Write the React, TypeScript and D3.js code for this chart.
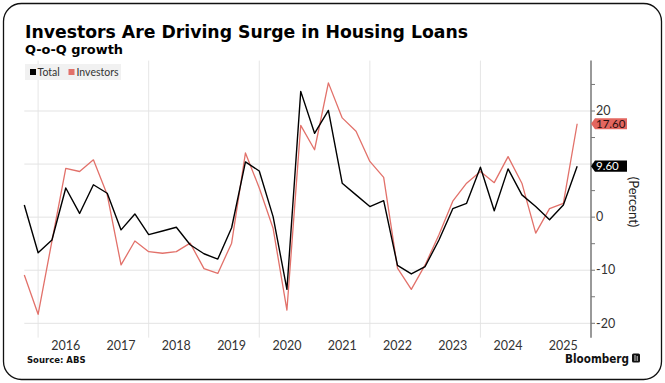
import React from "react";
import * as d3 from "d3";

const quarters = [
  "2015Q3","2015Q4","2016Q1","2016Q2","2016Q3","2016Q4","2017Q1","2017Q2","2017Q3","2017Q4",
  "2018Q1","2018Q2","2018Q3","2018Q4","2019Q1","2019Q2","2019Q3","2019Q4","2020Q1","2020Q2",
  "2020Q3","2020Q4","2021Q1","2021Q2","2021Q3","2021Q4","2022Q1","2022Q2","2022Q3","2022Q4",
  "2023Q1","2023Q2","2023Q3","2023Q4","2024Q1","2024Q2","2024Q3","2024Q4","2025Q1","2025Q2","2025Q3",
];
const total = [
  2.3, -6.7, -4.3, 5.5, 0.7, 6.1, 4.5, -2.4, 0.6, -3.3,
  -2.6, -1.9, -5.2, -6.9, -7.9, -2.0, 10.4, 8.7, 0.1, -13.6,
  23.7, 15.8, 20.1, 6.4, 4.2, 2.0, 3.1, -9.1, -10.7, -9.3,
  -4.3, 1.6, 2.6, 9.4, 1.2, 9.1, 4.2, 2.0, -0.5, 2.3, 9.6,
];
const investors = [
  -10.9, -18.3, -4.5, 9.2, 8.6, 10.8, 4.2, -9.0, -4.5, -6.5,
  -6.8, -6.5, -4.9, -9.7, -10.6, -4.9, 12.1, 5.5, -2.1, -17.5,
  17.3, 12.7, 25.3, 18.7, 16.2, 10.5, 7.5, -9.6, -13.6, -9.0,
  -3.3, 3.0, 6.4, 8.6, 6.5, 11.4, 6.4, -3.0, 1.6, 2.6, 17.6,
];
const yearLabels = ["2016","2017","2018","2019","2020","2021","2022","2023","2024","2025"];
const gridYears = [2016, 2018, 2020, 2022, 2024];
const yGrid = [-20, -10, 0, 10, 20];
const yTickLabels = [-20, -10, 0, 20]; // "10" is hidden behind the 9.60 tag
const yMinorTicks = [-20, -15, -10, -5, 0, 5, 10, 15, 20, 25];

const RED = "#e2716a";
const W = 665, H = 383;
const X0 = 24.3, X1 = 591;
const TICK_FONT = "Lato, 'Open Sans', sans-serif";
const BOLD_FONT = "'DejaVu Sans', Verdana, sans-serif";

function qToYear(q: string) {
  const y = +q.slice(0, 4);
  const n = +q.slice(5);
  return y + n * 0.25;
}

export default function App() {
  const x = d3.scaleLinear().domain([2015.75, 2026]).range([X0, X1]);
  const y = d3.scaleLinear().domain([-20, 20]).range([323.3, 111]);
  const yTop = y(29.5), yBot = y(-22.7);
  const t = quarters.map(qToYear);
  const line = d3
    .line<number>()
    .x((_, i) => x(t[i]))
    .y((d) => y(d));

  const tag = (v: number, fill: string, textFill: string) => {
    const yc = y(v);
    const h = 5.6;
    const p = `M${X1},${yc} L${X1 + 4},${yc - h} L${X1 + 36},${yc - h} L${X1 + 36},${yc + h} L${X1 + 4},${yc + h} Z`;
    return (
      <g>
        <path d={p} fill={fill} />
        <text x={X1 + 5} y={yc + 4} fontSize={11.5} fontFamily={TICK_FONT} fill={textFill}>
          {v.toFixed(2)}
        </text>
      </g>
    );
  };

  return (
    <svg width={W} height={H} style={{ position: "absolute", left: 0, top: 0, background: "#fff" }}>
      <rect x={0} y={0} width={W} height={H} fill="#fff" />
      <rect x={3.5} y={3.5} width={658} height={376} rx={18} ry={18} fill="none" stroke="#111" strokeWidth={1.3} />
      <text x={25} y={38} fontFamily={BOLD_FONT} fontWeight={700} fontSize={17.5} fill="#000" textLength={443} lengthAdjust="spacingAndGlyphs">
        Investors Are Driving Surge in Housing Loans
      </text>
      <text x={25} y={53.5} fontFamily={BOLD_FONT} fontWeight={700} fontSize={11.8} fill="#000" textLength={98} lengthAdjust="spacingAndGlyphs">
        Q-o-Q growth
      </text>

      {/* vertical gridlines */}
      {gridYears.map((g) => (
        <line key={g} x1={x(g)} x2={x(g)} y1={yTop} y2={yBot} stroke="#e6e6e6" strokeWidth={1} />
      ))}
      {/* horizontal gridlines */}
      {yGrid.map((v) => (
        <line key={v} x1={X0} x2={X1} y1={y(v)} y2={y(v)} stroke="#e3e3e3" strokeWidth={1} />
      ))}

      {/* legend */}
      <rect x={25} y={64} width={96} height={16} fill="#f1f1f1" />
      <rect x={30} y={69} width={6} height={6} fill="#000" />
      <text x={37.5} y={76} fontFamily={TICK_FONT} fontSize={10.5} fill="#333">Total</text>
      <rect x={68.5} y={69} width={6} height={6} fill={RED} />
      <text x={76.5} y={76} fontFamily={TICK_FONT} fontSize={10.5} fill="#333">Investors</text>

      {/* lines */}
      <path d={line(investors) || ""} fill="none" stroke={RED} strokeWidth={1.3} strokeLinejoin="round" />
      <path d={line(total) || ""} fill="none" stroke="#000" strokeWidth={1.4} strokeLinejoin="round" />

      {/* right axis */}
      <line x1={X1} x2={X1} y1={yTop} y2={yBot} stroke="#777" strokeWidth={1.5} />
      {yMinorTicks.map((v) => (
        <line key={v} x1={X1} x2={X1 + 4} y1={y(v)} y2={y(v)} stroke="#777" strokeWidth={1} />
      ))}
      {yTickLabels.map((v) => (
        <text key={v} x={X1 + 5} y={y(v) + 4.2} fontFamily={TICK_FONT} fontSize={12.5} fill="#333">
          {v < 0 ? "-" + Math.abs(v) : String(v)}
        </text>
      ))}
      {tag(investors[investors.length - 1], "#e3665f", "#2a0f0f")}
      {tag(total[total.length - 1], "#000", "#fff")}
      <text transform={`translate(629,202) rotate(90)`} textAnchor="middle" fontFamily={TICK_FONT} fontSize={13} fill="#222">
        (Percent)
      </text>

      {/* x labels */}
      {yearLabels.map((lab) => (
        <text key={lab} x={x(+lab + 0.5)} y={349.5} textAnchor="middle" fontFamily={TICK_FONT} fontSize={12.5} fill="#333">
          {lab}
        </text>
      ))}

      {/* footer */}
      <text x={27} y={362.5} fontFamily={BOLD_FONT} fontWeight={700} fontSize={8.5} fill="#111">Source: ABS</text>
      <text x={565} y={363} fontFamily={BOLD_FONT} fontWeight={700} fontSize={12.5} fill="#111" textLength={64} lengthAdjust="spacingAndGlyphs">Bloomberg</text>
      <rect x={632} y={353.5} width={8} height={9} rx={1.5} fill="#111" />
      <line x1={635} x2={635} y1={355} y2={361} stroke="#fff" strokeWidth={0.8} />
      <line x1={637.2} x2={637.2} y1={356} y2={361} stroke="#fff" strokeWidth={0.8} />
    </svg>
  );
}
